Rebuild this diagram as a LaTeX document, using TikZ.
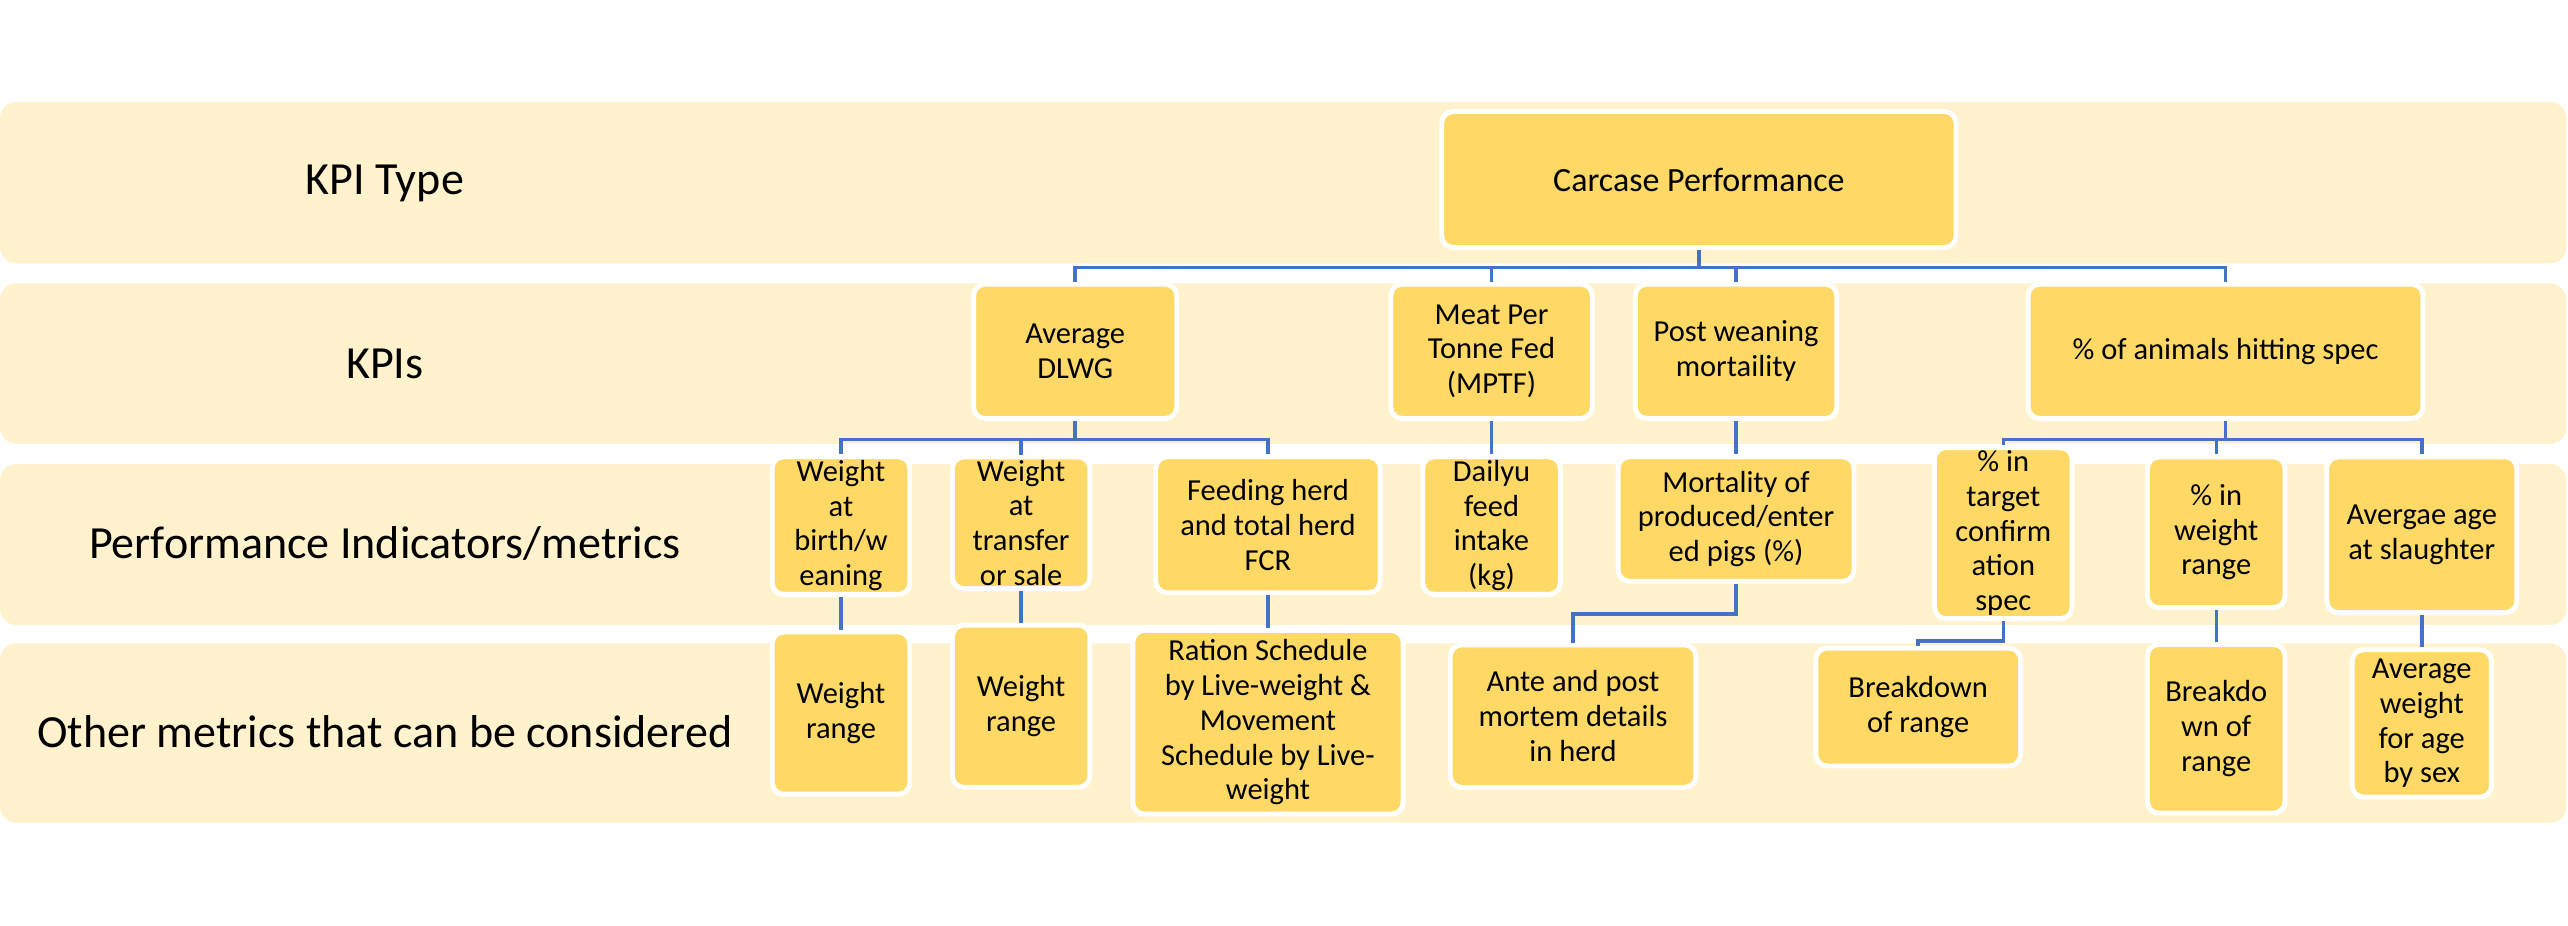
\documentclass[tikz,border=0pt]{standalone}
\usepackage{fontspec}
\setmainfont{Carlito}
\usepackage{tikz}
\usetikzlibrary{positioning}
\definecolor{bandyellow}{HTML}{FFF2CC}
\definecolor{boxgold}{HTML}{FFD966}
\definecolor{linkblue}{HTML}{4472C4}

\begin{document}
\begin{tikzpicture}[x=0.02cm,y=-0.02cm,
        band/.style={fill=bandyellow,rounded corners=0.2cm},
        rowlabel/.style={font=\fontsize{16}{19}\selectfont},
        kpibox/.style={draw=white,line width=1.7pt,fill=boxgold,rounded corners=4pt,
                align=center,inner sep=1pt,font=\fontsize{10.6}{12.1}\selectfont},
        boxsize/.style 2 args={minimum width=#1*0.02cm,minimum height=#2*0.02cm},
        link/.style={draw=linkblue,line width=1.2pt}]%
        %\draw[step=100,color=gray,very thin] (0,0) grid (1568,565);%%
        \useasboundingbox (0,0) rectangle (1568,565); %%
        % row bands
        \fill[band] (0,62.3) rectangle (1567,160.8); %%
        \fill[band] (0,173) rectangle (1567,271); %%
        \fill[band] (0,283.3) rectangle (1567,381.6); %%
        \fill[band] (0,392.8) rectangle (1567,502.3); %%
        \begin{scope}[every node/.style={rowlabel}]
        \node (lt) at (235,112) {KPI Type}; %%
        \node (lk) at (235,222) {KPIs}; %%
        \node (lp) at (235,332) {Performance Indicators/metrics}; %%
        \node (lo) at (235,447) {Other metrics that can be considered}; %%
        \end{scope}
        % KPI type
        \node[kpibox,boxsize={314}{83},font=\fontsize{11.8}{13}\selectfont] (cp) at (1037.3,109.6) {Carcase Performance}; %%
        % KPIs
        \node[kpibox,boxsize={124}{82}] (dlwg) at (656.5,214.5) {Average\\DLWG}; %%
        \node[kpibox,boxsize={123}{82}] (mptf) at (910.7,214.5) {Meat Per\\Tonne Fed\\(MPTF)}; %%
        \node[kpibox,boxsize={123}{82}] (pwm) at (1060,214.5) {Post weaning\\mortaility}; %%
        \node[kpibox,boxsize={241}{82}] (spec) at (1358.9,214.5) {\% of animals hitting spec}; %%
        % performance indicators
        \node[kpibox,boxsize={84}{84}] (wbw) at (513.5,320.9) {Weight\\at\\birth/w\\eaning}; %%
        \node[kpibox,boxsize={84}{80}] (wts) at (623.5,319.2) {Weight\\at\\transfer\\or sale}; %%
        \node[kpibox,boxsize={137}{83}] (fcr) at (774.2,320.4) {Feeding herd\\and total herd\\FCR}; %%
        \node[kpibox,boxsize={84}{84}] (dfi) at (910.7,320.9) {Dailyu\\feed\\intake\\(kg)}; %%
        \node[kpibox,boxsize={144}{76}] (mort) at (1060,316.9) {Mortality of\\produced/enter\\ed pigs (\%)}; %%
        \node[kpibox,boxsize={84}{93}] (tgt) at (1223.2,325.5) {\% in\\target\\confirm\\ation\\spec}; %%
        \node[kpibox,boxsize={84}{92}] (wrg) at (1353.2,325) {\% in\\weight\\range}; %%
        \node[kpibox,boxsize={116}{95}] (age) at (1478.7,326.5) {Avergae age\\at slaughter}; %%
        % other metrics
        \node[kpibox,boxsize={84}{99}] (wr1) at (513.5,435.4) {Weight\\range}; %%
        \node[kpibox,boxsize={84}{99}] (wr2) at (623.5,431.2) {Weight\\range}; %%
        \node[kpibox,boxsize={165}{112}] (ration) at (774.2,441) {Ration Schedule\\by Live-weight \&\\Movement\\Schedule by Live-\\weight}; %%
        \node[kpibox,boxsize={150}{87}] (ante) at (960.5,437.3) {Ante and post\\mortem details\\in herd}; %%
        \node[kpibox,boxsize={125}{72}] (bdr1) at (1171.2,431.7) {Breakdown\\of range}; %%
        \node[kpibox,boxsize={84}{103}] (bdr2) at (1353.2,445) {Breakdo\\wn of\\range}; %%
        \node[kpibox,boxsize={85}{90}] (avw) at (1478.7,441.7) {Average\\weight\\for age\\by sex}; %%
        % connectors
        \draw[link] (cp.south) -- ++(0,10.7) -| (dlwg.north); %%
        \draw[link] (cp.south) -- ++(0,10.7) -| (mptf.north); %%
        \draw[link] (cp.south) -- ++(0,10.7) -| (pwm.north); %%
        \draw[link] (cp.south) -- ++(0,10.7) -| (spec.north); %%
        \draw[link] (dlwg.south) -- ++(0,11.5) -| (wbw.north); %%
        \draw[link] (dlwg.south) -- ++(0,11.5) -| (wts.north); %%
        \draw[link] (dlwg.south) -- ++(0,11.5) -| (fcr.north); %%
        \draw[link] (mptf.south) -- (dfi.north); %%
        \draw[link] (pwm.south) -- (mort.north); %%
        \draw[link] (spec.south) -- ++(0,11.5) -| (tgt.north); %%
        \draw[link] (spec.south) -- ++(0,11.5) -| (wrg.north); %%
        \draw[link] (spec.south) -- ++(0,11.5) -| (age.north); %%
        \draw[link] (wbw.south) -- (wr1.north); %%
        \draw[link] (wts.south) -- (wr2.north); %%
        \draw[link] (fcr.south) -- (ration.north); %%
        \draw[link] (mort.south) -- ++(0,18.6) -| (ante.north); %%
        \draw[link] (tgt.south) -- ++(0,12.3) -| (bdr1.north); %%
        \draw[link] (wrg.south) -- (bdr2.north); %%
        \draw[link] (age.south) -- (avw.north); %%
\end{tikzpicture}
\end{document}
